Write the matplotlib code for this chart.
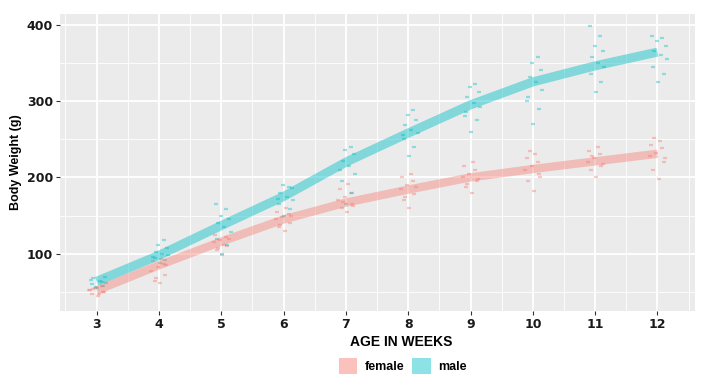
import numpy as np
import matplotlib.pyplot as plt
from matplotlib.patches import Patch

# weeks on the x axis
weeks = [3, 4, 5, 6, 7, 8, 9, 10, 11, 12]

# smoothed group means
female_fit = [52, 85, 116, 145, 167, 184, 200, 211, 221, 231]
male_fit = [64, 98, 137, 175, 220, 258, 295, 325, 346, 364]

# individual body weights (g) per week
female_pts = [
    [45, 48, 50, 52, 55, 58, 52, 47, 54, 50],
    [62, 65, 72, 78, 83, 87, 90, 93, 68, 85],
    [98, 105, 110, 115, 118, 122, 125, 112, 108, 120],
    [130, 135, 140, 145, 148, 152, 155, 160, 138, 150],
    [155, 160, 165, 170, 175, 180, 185, 192, 168, 163],
    [160, 170, 178, 185, 190, 195, 200, 205, 175, 188],
    [180, 188, 195, 200, 205, 210, 215, 220, 192, 198],
    [182, 195, 205, 210, 215, 220, 225, 230, 235, 200],
    [200, 210, 215, 220, 225, 230, 235, 240, 228, 218],
    [198, 210, 220, 228, 232, 238, 242, 248, 252, 225],
]
male_pts = [
    [55, 58, 60, 62, 65, 68, 70, 57, 63, 66],
    [88, 92, 95, 98, 100, 103, 108, 112, 118, 96],
    [100, 112, 120, 128, 135, 140, 145, 150, 158, 165],
    [150, 158, 165, 170, 175, 180, 186, 190, 188, 172],
    [165, 180, 195, 205, 215, 222, 230, 236, 240, 210],
    [228, 240, 250, 258, 262, 268, 275, 282, 288, 255],
    [260, 275, 285, 292, 298, 305, 312, 318, 322, 280],
    [270, 290, 305, 315, 325, 332, 340, 350, 358, 300],
    [312, 325, 335, 345, 350, 358, 365, 372, 385, 398],
    [325, 335, 345, 355, 360, 365, 372, 378, 382, 385],
]

fcol = '#F8766D'
mcol = '#00BFC4'

# fixed jitter pattern (no randomness)
jit = np.array([-0.12, 0.05, -0.04, 0.1, -0.08, 0.02, 0.12, -0.1, 0.07, -0.02])

fig = plt.figure(figsize=(7.04, 3.86), dpi=100)
ax = fig.add_axes([0.085, 0.194, 0.902, 0.770])
ax.set_facecolor('#EBEBEB')

for pts, col, sh in [(female_pts, fcol, 0.0), (male_pts, mcol, 0.03)]:
    for w, vals in zip(weeks, pts):
        ax.scatter(w + jit[::-1] * (1 if sh else -1) + sh, vals, s=9, marker='_',
                   color=col, alpha=0.4, linewidths=1.6, zorder=3)

ax.plot(weeks, female_fit, color=fcol, lw=6, alpha=0.4, solid_capstyle='butt', zorder=4)
ax.plot(weeks, male_fit, color=mcol, lw=6.5, alpha=0.45, solid_capstyle='butt', zorder=4)

ax.set_xlim(2.41, 12.6)
ax.set_ylim(25, 414)
ax.set_xticks(weeks)
ax.set_yticks([100, 200, 300, 400])
ax.set_xticks(np.arange(2.5, 13, 1), minor=True)
ax.set_yticks([50, 150, 250, 350], minor=True)
ax.grid(which='major', color='white', lw=1.3)
ax.grid(which='minor', color='white', lw=0.6)
ax.set_axisbelow(True)
for s in ax.spines.values():
    s.set_visible(False)
ax.tick_params(which='major', length=3, color='#333333', width=0.8, pad=2)
ax.tick_params(which='minor', length=0)
for lab in ax.get_xticklabels() + ax.get_yticklabels():
    lab.set_fontfamily('DejaVu Sans')
    lab.set_fontweight('bold')
    lab.set_fontsize(9)
    lab.set_color('#1a1a1a')

ax.set_ylabel('Body Weight (g)', fontsize=9, fontweight='bold', family='Liberation Sans', labelpad=3)
fig.text(0.57, 0.113, 'AGE IN WEEKS', ha='center', va='center', fontsize=10,
         fontweight='bold', family='Liberation Sans')

handles = [Patch(facecolor=fcol, alpha=0.45, edgecolor='none'),
           Patch(facecolor=mcol, alpha=0.45, edgecolor='none')]
fig.legend(handles, ['female', 'male'], loc='center', bbox_to_anchor=(0.572, 0.051),
           ncol=2, frameon=False, handlelength=1.5, handleheight=1.6, handletextpad=0.6,
           columnspacing=0.6, prop={'family': 'Liberation Sans', 'weight': 'bold', 'size': 9})

fig.savefig('out.png', dpi=100)
